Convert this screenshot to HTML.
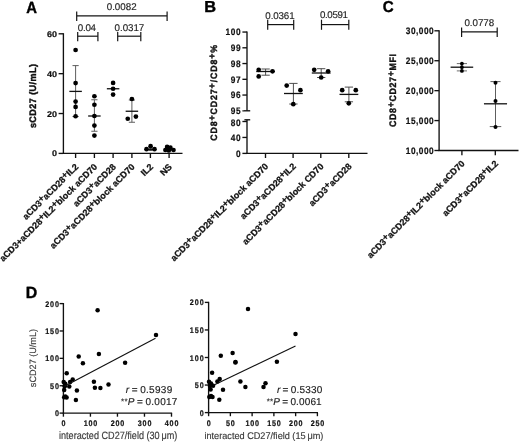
<!DOCTYPE html>
<html><head><meta charset="utf-8"><style>
html,body{margin:0;padding:0;background:#fff;width:520px;height:443px;overflow:hidden}
svg{display:block;text-rendering:geometricPrecision;font-family:"Liberation Sans",Arial,sans-serif}
</style></head><body>
<svg width="520" height="443" viewBox="0 0 520 443">
<rect width="520" height="443" fill="#fff"/>
<text id="LA" transform="translate(26.20,12.74) scale(0.9160,1)" font-size="16.23" font-weight="bold" font-style="normal" text-anchor="start" fill="#000" stroke="#000" stroke-width="0.4">A</text>
<text id="LB" transform="translate(204.19,12.34) scale(1.0300,1)" font-size="15.87" font-weight="bold" font-style="normal" text-anchor="start" fill="#000" stroke="#000" stroke-width="0.4">B</text>
<text id="LC" transform="translate(382.76,12.26) scale(0.9550,1)" font-size="15.89" font-weight="bold" font-style="normal" text-anchor="start" fill="#000" stroke="#000" stroke-width="0.4">C</text>
<text id="LD" transform="translate(25.76,298.45) scale(0.9810,1)" font-size="16.21" font-weight="bold" font-style="normal" text-anchor="start" fill="#000" stroke="#000" stroke-width="0.4">D</text>
<line x1="63.40" y1="33.20" x2="63.40" y2="154.00" stroke="#111" stroke-width="1.35" stroke-linecap="butt"/>
<line x1="62.80" y1="153.40" x2="182.50" y2="153.40" stroke="#111" stroke-width="1.35" stroke-linecap="butt"/>
<line x1="58.60" y1="153.40" x2="63.40" y2="153.40" stroke="#111" stroke-width="1.35" stroke-linecap="butt"/>
<line x1="58.60" y1="113.53" x2="63.40" y2="113.53" stroke="#111" stroke-width="1.35" stroke-linecap="butt"/>
<line x1="58.60" y1="73.67" x2="63.40" y2="73.67" stroke="#111" stroke-width="1.35" stroke-linecap="butt"/>
<line x1="58.60" y1="33.80" x2="63.40" y2="33.80" stroke="#111" stroke-width="1.35" stroke-linecap="butt"/>
<text id="TA_0" transform="translate(56.96,156.43) scale(1.0870,1)" font-size="8.31" font-weight="bold" font-style="normal" text-anchor="end" fill="#111" stroke="#111" stroke-width="0.2">0</text>
<text id="TA_20" transform="translate(56.96,116.56) scale(1.0870,1)" font-size="8.31" font-weight="bold" font-style="normal" text-anchor="end" fill="#111" stroke="#111" stroke-width="0.2">20</text>
<text id="TA_40" transform="translate(56.96,76.69) scale(1.0870,1)" font-size="8.31" font-weight="bold" font-style="normal" text-anchor="end" fill="#111" stroke="#111" stroke-width="0.2">40</text>
<text id="TA_60" transform="translate(56.96,36.83) scale(1.0870,1)" font-size="8.31" font-weight="bold" font-style="normal" text-anchor="end" fill="#111" stroke="#111" stroke-width="0.2">60</text>
<line x1="75.60" y1="153.40" x2="75.60" y2="158.00" stroke="#111" stroke-width="1.35" stroke-linecap="butt"/>
<line x1="94.40" y1="153.40" x2="94.40" y2="158.00" stroke="#111" stroke-width="1.35" stroke-linecap="butt"/>
<line x1="113.10" y1="153.40" x2="113.10" y2="158.00" stroke="#111" stroke-width="1.35" stroke-linecap="butt"/>
<line x1="131.90" y1="153.40" x2="131.90" y2="158.00" stroke="#111" stroke-width="1.35" stroke-linecap="butt"/>
<line x1="150.40" y1="153.40" x2="150.40" y2="158.00" stroke="#111" stroke-width="1.35" stroke-linecap="butt"/>
<line x1="169.10" y1="153.40" x2="169.10" y2="158.00" stroke="#111" stroke-width="1.35" stroke-linecap="butt"/>
<text id="YA" transform="translate(36.09,128.12) rotate(-90) scale(0.9500,1)" font-size="9.50" font-weight="bold" font-style="normal" text-anchor="start" fill="#111" stroke="#111" stroke-width="0.4" letter-spacing="0.469">sCD27 (U/mL)</text>
<line x1="76.70" y1="15.80" x2="167.10" y2="15.80" stroke="#141414" stroke-width="1.2" stroke-linecap="butt"/>
<line x1="76.70" y1="11.50" x2="76.70" y2="20.90" stroke="#141414" stroke-width="1.2" stroke-linecap="butt"/>
<line x1="167.10" y1="11.50" x2="167.10" y2="20.90" stroke="#141414" stroke-width="1.2" stroke-linecap="butt"/>
<text id="P1" transform="translate(106.72,10.12)" font-size="9.75" font-weight="normal" font-style="normal" text-anchor="start" fill="#1e1e1e" stroke="#1e1e1e" stroke-width="0.15" letter-spacing="0.002">0.0082</text>
<line x1="77.70" y1="36.20" x2="97.90" y2="36.20" stroke="#141414" stroke-width="1.2" stroke-linecap="butt"/>
<line x1="77.70" y1="31.90" x2="77.70" y2="41.30" stroke="#141414" stroke-width="1.2" stroke-linecap="butt"/>
<line x1="97.90" y1="31.90" x2="97.90" y2="41.30" stroke="#141414" stroke-width="1.2" stroke-linecap="butt"/>
<text id="P2" transform="translate(77.79,30.55)" font-size="9.75" font-weight="normal" font-style="normal" text-anchor="start" fill="#1e1e1e" stroke="#1e1e1e" stroke-width="0.15" letter-spacing="-0.255">0.04</text>
<line x1="117.70" y1="36.20" x2="140.80" y2="36.20" stroke="#141414" stroke-width="1.2" stroke-linecap="butt"/>
<line x1="117.70" y1="31.90" x2="117.70" y2="41.30" stroke="#141414" stroke-width="1.2" stroke-linecap="butt"/>
<line x1="140.80" y1="31.90" x2="140.80" y2="41.30" stroke="#141414" stroke-width="1.2" stroke-linecap="butt"/>
<text id="P3" transform="translate(114.58,30.89)" font-size="9.75" font-weight="normal" font-style="normal" text-anchor="start" fill="#1e1e1e" stroke="#1e1e1e" stroke-width="0.15" letter-spacing="-0.034">0.0317</text>
<line x1="75.60" y1="65.60" x2="75.60" y2="116.50" stroke="#555" stroke-width="0.95" stroke-linecap="butt"/>
<line x1="72.50" y1="65.60" x2="78.70" y2="65.60" stroke="#555" stroke-width="0.95" stroke-linecap="butt"/>
<line x1="72.50" y1="116.50" x2="78.70" y2="116.50" stroke="#555" stroke-width="0.95" stroke-linecap="butt"/>
<line x1="69.35" y1="91.40" x2="81.85" y2="91.40" stroke="#111" stroke-width="1.3" stroke-linecap="butt"/>
<circle cx="75.60" cy="50.00" r="2.35" fill="#000"/>
<circle cx="75.60" cy="83.10" r="2.35" fill="#000"/>
<circle cx="75.60" cy="101.60" r="2.35" fill="#000"/>
<circle cx="75.60" cy="106.90" r="2.35" fill="#000"/>
<circle cx="75.60" cy="116.25" r="2.35" fill="#000"/>
<line x1="94.40" y1="99.75" x2="94.40" y2="131.25" stroke="#555" stroke-width="0.95" stroke-linecap="butt"/>
<line x1="91.30" y1="99.75" x2="97.50" y2="99.75" stroke="#555" stroke-width="0.95" stroke-linecap="butt"/>
<line x1="91.30" y1="131.25" x2="97.50" y2="131.25" stroke="#555" stroke-width="0.95" stroke-linecap="butt"/>
<line x1="88.15" y1="116.00" x2="100.65" y2="116.00" stroke="#111" stroke-width="1.3" stroke-linecap="butt"/>
<circle cx="94.40" cy="96.25" r="2.35" fill="#000"/>
<circle cx="94.40" cy="104.75" r="2.35" fill="#000"/>
<circle cx="94.40" cy="116.00" r="2.35" fill="#000"/>
<circle cx="94.40" cy="125.60" r="2.35" fill="#000"/>
<circle cx="94.40" cy="135.60" r="2.35" fill="#000"/>
<line x1="106.85" y1="88.75" x2="119.35" y2="88.75" stroke="#111" stroke-width="1.3" stroke-linecap="butt"/>
<circle cx="113.10" cy="82.90" r="2.35" fill="#000"/>
<circle cx="113.10" cy="88.75" r="2.35" fill="#000"/>
<circle cx="113.10" cy="94.60" r="2.35" fill="#000"/>
<line x1="131.90" y1="100.00" x2="131.90" y2="122.25" stroke="#555" stroke-width="0.95" stroke-linecap="butt"/>
<line x1="128.80" y1="100.00" x2="135.00" y2="100.00" stroke="#555" stroke-width="0.95" stroke-linecap="butt"/>
<line x1="128.80" y1="122.25" x2="135.00" y2="122.25" stroke="#555" stroke-width="0.95" stroke-linecap="butt"/>
<line x1="125.65" y1="111.25" x2="138.15" y2="111.25" stroke="#111" stroke-width="1.3" stroke-linecap="butt"/>
<circle cx="131.90" cy="99.00" r="2.35" fill="#000"/>
<circle cx="127.75" cy="118.75" r="2.35" fill="#000"/>
<circle cx="135.90" cy="116.60" r="2.35" fill="#000"/>
<line x1="150.50" y1="148.30" x2="150.50" y2="150.50" stroke="#555" stroke-width="0.95" stroke-linecap="butt"/>
<line x1="148.50" y1="148.30" x2="152.50" y2="148.30" stroke="#555" stroke-width="0.95" stroke-linecap="butt"/>
<line x1="148.50" y1="150.50" x2="152.50" y2="150.50" stroke="#555" stroke-width="0.95" stroke-linecap="butt"/>
<line x1="146.50" y1="149.50" x2="154.50" y2="149.50" stroke="#111" stroke-width="1.3" stroke-linecap="butt"/>
<circle cx="146.50" cy="149.20" r="2.35" fill="#000"/>
<circle cx="150.60" cy="146.20" r="2.35" fill="#000"/>
<circle cx="154.50" cy="149.20" r="2.35" fill="#000"/>
<line x1="169.30" y1="149.00" x2="169.30" y2="150.50" stroke="#555" stroke-width="0.95" stroke-linecap="butt"/>
<line x1="167.30" y1="149.00" x2="171.30" y2="149.00" stroke="#555" stroke-width="0.95" stroke-linecap="butt"/>
<line x1="167.30" y1="150.50" x2="171.30" y2="150.50" stroke="#555" stroke-width="0.95" stroke-linecap="butt"/>
<line x1="165.30" y1="149.80" x2="173.30" y2="149.80" stroke="#111" stroke-width="1.3" stroke-linecap="butt"/>
<circle cx="165.40" cy="150.00" r="2.35" fill="#000"/>
<circle cx="167.10" cy="146.90" r="2.35" fill="#000"/>
<circle cx="170.40" cy="147.70" r="2.35" fill="#000"/>
<circle cx="173.50" cy="150.00" r="2.35" fill="#000"/>
<circle cx="168.80" cy="150.40" r="2.35" fill="#000"/>
<text id="XA0" transform="translate(79.00,167.40) rotate(-45)" font-size="9.00" font-weight="bold" font-style="normal" text-anchor="end" fill="#111" stroke="#111" stroke-width="0.25">aCD3<tspan baseline-shift="25%">+</tspan>aCD28<tspan baseline-shift="25%">+</tspan>IL2</text>
<text id="XA1" transform="translate(97.80,167.40) rotate(-45)" font-size="9.00" font-weight="bold" font-style="normal" text-anchor="end" fill="#111" stroke="#111" stroke-width="0.25">aCD3+aCD28<tspan baseline-shift="25%">+</tspan>IL2<tspan baseline-shift="25%">+</tspan>block aCD70</text>
<text id="XA2" transform="translate(116.50,167.40) rotate(-45)" font-size="9.00" font-weight="bold" font-style="normal" text-anchor="end" fill="#111" stroke="#111" stroke-width="0.25">aCD3<tspan baseline-shift="25%">+</tspan>aCD28</text>
<text id="XA3" transform="translate(135.30,167.40) rotate(-45)" font-size="9.00" font-weight="bold" font-style="normal" text-anchor="end" fill="#111" stroke="#111" stroke-width="0.25">aCD3<tspan baseline-shift="25%">+</tspan>aCD28<tspan baseline-shift="25%">+</tspan>block aCD70</text>
<text id="XA4" transform="translate(153.80,167.40) rotate(-45)" font-size="9.00" font-weight="bold" font-style="normal" text-anchor="end" fill="#111" stroke="#111" stroke-width="0.25">IL2</text>
<text id="XA5" transform="translate(172.50,167.40) rotate(-45)" font-size="9.00" font-weight="bold" font-style="normal" text-anchor="end" fill="#111" stroke="#111" stroke-width="0.25">NS</text>
<line x1="247.00" y1="31.45" x2="247.00" y2="110.80" stroke="#111" stroke-width="1.35" stroke-linecap="butt"/>
<line x1="247.00" y1="119.80" x2="247.00" y2="154.00" stroke="#111" stroke-width="1.35" stroke-linecap="butt"/>
<line x1="246.40" y1="153.40" x2="367.50" y2="153.40" stroke="#111" stroke-width="1.35" stroke-linecap="butt"/>
<line x1="242.40" y1="95.05" x2="247.00" y2="95.05" stroke="#111" stroke-width="1.35" stroke-linecap="butt"/>
<line x1="242.40" y1="79.30" x2="247.00" y2="79.30" stroke="#111" stroke-width="1.35" stroke-linecap="butt"/>
<line x1="242.40" y1="63.55" x2="247.00" y2="63.55" stroke="#111" stroke-width="1.35" stroke-linecap="butt"/>
<line x1="242.40" y1="47.80" x2="247.00" y2="47.80" stroke="#111" stroke-width="1.35" stroke-linecap="butt"/>
<line x1="242.40" y1="32.05" x2="247.00" y2="32.05" stroke="#111" stroke-width="1.35" stroke-linecap="butt"/>
<line x1="242.40" y1="153.40" x2="247.00" y2="153.40" stroke="#111" stroke-width="1.35" stroke-linecap="butt"/>
<line x1="242.40" y1="137.45" x2="247.00" y2="137.45" stroke="#111" stroke-width="1.35" stroke-linecap="butt"/>
<line x1="242.40" y1="121.50" x2="247.00" y2="121.50" stroke="#111" stroke-width="1.35" stroke-linecap="butt"/>
<line x1="243.90" y1="110.80" x2="250.20" y2="110.80" stroke="#111" stroke-width="1.35" stroke-linecap="butt"/>
<line x1="244.40" y1="119.80" x2="250.20" y2="119.80" stroke="#111" stroke-width="1.35" stroke-linecap="butt"/>
<line x1="242.40" y1="110.80" x2="243.90" y2="110.80" stroke="#111" stroke-width="1.35" stroke-linecap="butt"/>
<text id="TB_95" transform="translate(241.16,114.21) scale(0.8800,1)" font-size="9.44" font-weight="bold" font-style="normal" text-anchor="end" fill="#111" stroke="#111" stroke-width="0.2" letter-spacing="0.652">95</text>
<text id="TB_96" transform="translate(241.16,98.46) scale(0.8800,1)" font-size="9.44" font-weight="bold" font-style="normal" text-anchor="end" fill="#111" stroke="#111" stroke-width="0.2" letter-spacing="0.652">96</text>
<text id="TB_97" transform="translate(241.16,82.71) scale(0.8800,1)" font-size="9.44" font-weight="bold" font-style="normal" text-anchor="end" fill="#111" stroke="#111" stroke-width="0.2" letter-spacing="0.652">97</text>
<text id="TB_98" transform="translate(241.16,66.96) scale(0.8800,1)" font-size="9.44" font-weight="bold" font-style="normal" text-anchor="end" fill="#111" stroke="#111" stroke-width="0.2" letter-spacing="0.652">98</text>
<text id="TB_99" transform="translate(241.16,51.21) scale(0.8800,1)" font-size="9.44" font-weight="bold" font-style="normal" text-anchor="end" fill="#111" stroke="#111" stroke-width="0.2" letter-spacing="0.652">99</text>
<text id="TB_100" transform="translate(241.16,35.46) scale(0.8800,1)" font-size="9.44" font-weight="bold" font-style="normal" text-anchor="end" fill="#111" stroke="#111" stroke-width="0.2" letter-spacing="0.652">100</text>
<text id="TB_0" transform="translate(241.16,156.81) scale(0.8800,1)" font-size="9.44" font-weight="bold" font-style="normal" text-anchor="end" fill="#111" stroke="#111" stroke-width="0.2" letter-spacing="0.652">0</text>
<text id="TB_40" transform="translate(241.16,140.86) scale(0.8800,1)" font-size="9.44" font-weight="bold" font-style="normal" text-anchor="end" fill="#111" stroke="#111" stroke-width="0.2" letter-spacing="0.652">40</text>
<text id="TB_80" transform="translate(241.16,125.51) scale(0.8800,1)" font-size="9.44" font-weight="bold" font-style="normal" text-anchor="end" fill="#111" stroke="#111" stroke-width="0.2" letter-spacing="0.652">80</text>
<line x1="265.50" y1="153.40" x2="265.50" y2="158.00" stroke="#111" stroke-width="1.35" stroke-linecap="butt"/>
<line x1="293.10" y1="153.40" x2="293.10" y2="158.00" stroke="#111" stroke-width="1.35" stroke-linecap="butt"/>
<line x1="320.80" y1="153.40" x2="320.80" y2="158.00" stroke="#111" stroke-width="1.35" stroke-linecap="butt"/>
<line x1="348.80" y1="153.40" x2="348.80" y2="158.00" stroke="#111" stroke-width="1.35" stroke-linecap="butt"/>
<text id="YB" transform="translate(217.49,140.73) rotate(-90) scale(0.9500,1)" font-size="9.20" font-weight="bold" font-style="normal" text-anchor="start" fill="#111" stroke="#111" stroke-width="0.4" letter-spacing="0.980">CD8<tspan baseline-shift="25%">+</tspan>CD27<tspan baseline-shift="25%">+</tspan>/CD8<tspan baseline-shift="25%">+</tspan>%</text>
<line x1="267.70" y1="24.60" x2="293.70" y2="24.60" stroke="#141414" stroke-width="1.2" stroke-linecap="butt"/>
<line x1="267.70" y1="19.70" x2="267.70" y2="29.80" stroke="#141414" stroke-width="1.2" stroke-linecap="butt"/>
<line x1="293.70" y1="19.70" x2="293.70" y2="29.80" stroke="#141414" stroke-width="1.2" stroke-linecap="butt"/>
<text id="P4" transform="translate(265.35,18.59)" font-size="9.75" font-weight="normal" font-style="normal" text-anchor="start" fill="#1e1e1e" stroke="#1e1e1e" stroke-width="0.15" letter-spacing="-0.116">0.0361</text>
<line x1="321.50" y1="24.60" x2="348.80" y2="24.60" stroke="#141414" stroke-width="1.2" stroke-linecap="butt"/>
<line x1="321.50" y1="19.70" x2="321.50" y2="29.80" stroke="#141414" stroke-width="1.2" stroke-linecap="butt"/>
<line x1="348.80" y1="19.70" x2="348.80" y2="29.80" stroke="#141414" stroke-width="1.2" stroke-linecap="butt"/>
<text id="P5" transform="translate(319.88,18.25)" font-size="9.75" font-weight="normal" font-style="normal" text-anchor="start" fill="#1e1e1e" stroke="#1e1e1e" stroke-width="0.15" letter-spacing="-0.340">0.0591</text>
<line x1="265.60" y1="69.00" x2="265.60" y2="75.20" stroke="#444" stroke-width="0.95" stroke-linecap="butt"/>
<line x1="261.45" y1="69.00" x2="269.75" y2="69.00" stroke="#444" stroke-width="0.95" stroke-linecap="butt"/>
<line x1="261.45" y1="75.20" x2="269.75" y2="75.20" stroke="#444" stroke-width="0.95" stroke-linecap="butt"/>
<line x1="256.20" y1="71.50" x2="275.00" y2="71.50" stroke="#111" stroke-width="1.3" stroke-linecap="butt"/>
<circle cx="258.70" cy="69.80" r="2.35" fill="#000"/>
<circle cx="272.50" cy="71.30" r="2.35" fill="#000"/>
<circle cx="258.70" cy="76.40" r="2.35" fill="#000"/>
<line x1="293.40" y1="83.40" x2="293.40" y2="104.00" stroke="#444" stroke-width="0.95" stroke-linecap="butt"/>
<line x1="289.25" y1="83.40" x2="297.55" y2="83.40" stroke="#444" stroke-width="0.95" stroke-linecap="butt"/>
<line x1="289.25" y1="104.00" x2="297.55" y2="104.00" stroke="#444" stroke-width="0.95" stroke-linecap="butt"/>
<line x1="284.00" y1="93.50" x2="302.80" y2="93.50" stroke="#111" stroke-width="1.3" stroke-linecap="butt"/>
<circle cx="286.70" cy="85.60" r="2.35" fill="#000"/>
<circle cx="300.40" cy="90.20" r="2.35" fill="#000"/>
<circle cx="293.30" cy="104.20" r="2.35" fill="#000"/>
<line x1="321.20" y1="68.70" x2="321.20" y2="77.50" stroke="#444" stroke-width="0.95" stroke-linecap="butt"/>
<line x1="317.05" y1="68.70" x2="325.35" y2="68.70" stroke="#444" stroke-width="0.95" stroke-linecap="butt"/>
<line x1="317.05" y1="77.50" x2="325.35" y2="77.50" stroke="#444" stroke-width="0.95" stroke-linecap="butt"/>
<line x1="311.80" y1="73.00" x2="330.60" y2="73.00" stroke="#111" stroke-width="1.3" stroke-linecap="butt"/>
<circle cx="314.20" cy="69.80" r="2.35" fill="#000"/>
<circle cx="328.10" cy="71.30" r="2.35" fill="#000"/>
<circle cx="321.20" cy="77.50" r="2.35" fill="#000"/>
<line x1="348.90" y1="87.10" x2="348.90" y2="101.80" stroke="#444" stroke-width="0.95" stroke-linecap="butt"/>
<line x1="344.75" y1="87.10" x2="353.05" y2="87.10" stroke="#444" stroke-width="0.95" stroke-linecap="butt"/>
<line x1="344.75" y1="101.80" x2="353.05" y2="101.80" stroke="#444" stroke-width="0.95" stroke-linecap="butt"/>
<line x1="339.50" y1="94.40" x2="358.30" y2="94.40" stroke="#111" stroke-width="1.3" stroke-linecap="butt"/>
<circle cx="342.20" cy="90.20" r="2.35" fill="#000"/>
<circle cx="355.80" cy="90.20" r="2.35" fill="#000"/>
<circle cx="348.80" cy="103.30" r="2.35" fill="#000"/>
<text id="XB0" transform="translate(268.90,167.00) rotate(-45)" font-size="9.00" font-weight="bold" font-style="normal" text-anchor="end" fill="#111" stroke="#111" stroke-width="0.25">aCD3<tspan baseline-shift="25%">+</tspan>aCD28<tspan baseline-shift="25%">+</tspan>IL2<tspan baseline-shift="25%">+</tspan>block aCD70</text>
<text id="XB1" transform="translate(296.50,167.00) rotate(-45)" font-size="9.00" font-weight="bold" font-style="normal" text-anchor="end" fill="#111" stroke="#111" stroke-width="0.25">aCD3<tspan baseline-shift="25%">+</tspan>aCD28<tspan baseline-shift="25%">+</tspan>IL2</text>
<text id="XB2" transform="translate(324.20,167.00) rotate(-45)" font-size="9.00" font-weight="bold" font-style="normal" text-anchor="end" fill="#111" stroke="#111" stroke-width="0.25">aCD3<tspan baseline-shift="25%">+</tspan>aCD28<tspan baseline-shift="25%">+</tspan>block CD70</text>
<text id="XB3" transform="translate(352.20,167.00) rotate(-45)" font-size="9.00" font-weight="bold" font-style="normal" text-anchor="end" fill="#111" stroke="#111" stroke-width="0.25">aCD3<tspan baseline-shift="25%">+</tspan>aCD28</text>
<line x1="439.10" y1="30.20" x2="439.10" y2="151.10" stroke="#111" stroke-width="1.35" stroke-linecap="butt"/>
<line x1="438.50" y1="150.50" x2="518.50" y2="150.50" stroke="#111" stroke-width="1.35" stroke-linecap="butt"/>
<line x1="434.40" y1="150.50" x2="439.10" y2="150.50" stroke="#111" stroke-width="1.35" stroke-linecap="butt"/>
<line x1="434.40" y1="120.58" x2="439.10" y2="120.58" stroke="#111" stroke-width="1.35" stroke-linecap="butt"/>
<line x1="434.40" y1="90.65" x2="439.10" y2="90.65" stroke="#111" stroke-width="1.35" stroke-linecap="butt"/>
<line x1="434.40" y1="60.72" x2="439.10" y2="60.72" stroke="#111" stroke-width="1.35" stroke-linecap="butt"/>
<line x1="434.40" y1="30.80" x2="439.10" y2="30.80" stroke="#111" stroke-width="1.35" stroke-linecap="butt"/>
<text id="TC_10000" transform="translate(434.08,153.98) scale(0.8800,1)" font-size="9.44" font-weight="bold" font-style="normal" text-anchor="end" fill="#111" stroke="#111" stroke-width="0.2" letter-spacing="0.546">10,000</text>
<text id="TC_15000" transform="translate(434.08,124.06) scale(0.8800,1)" font-size="9.44" font-weight="bold" font-style="normal" text-anchor="end" fill="#111" stroke="#111" stroke-width="0.2" letter-spacing="0.546">15,000</text>
<text id="TC_20000" transform="translate(434.08,94.13) scale(0.8800,1)" font-size="9.44" font-weight="bold" font-style="normal" text-anchor="end" fill="#111" stroke="#111" stroke-width="0.2" letter-spacing="0.546">20,000</text>
<text id="TC_25000" transform="translate(434.08,64.21) scale(0.8800,1)" font-size="9.44" font-weight="bold" font-style="normal" text-anchor="end" fill="#111" stroke="#111" stroke-width="0.2" letter-spacing="0.546">25,000</text>
<text id="TC_30000" transform="translate(434.08,34.28) scale(0.8800,1)" font-size="9.44" font-weight="bold" font-style="normal" text-anchor="end" fill="#111" stroke="#111" stroke-width="0.2" letter-spacing="0.546">30,000</text>
<line x1="461.90" y1="150.50" x2="461.90" y2="155.30" stroke="#111" stroke-width="1.35" stroke-linecap="butt"/>
<line x1="495.30" y1="150.50" x2="495.30" y2="155.30" stroke="#111" stroke-width="1.35" stroke-linecap="butt"/>
<text id="YC" transform="translate(395.77,126.99) rotate(-90) scale(0.9500,1)" font-size="9.40" font-weight="bold" font-style="normal" text-anchor="start" fill="#111" stroke="#111" stroke-width="0.4" letter-spacing="0.635">CD8<tspan baseline-shift="25%">+</tspan>CD27<tspan baseline-shift="25%">+</tspan>MFI</text>
<line x1="461.60" y1="31.90" x2="497.20" y2="31.90" stroke="#141414" stroke-width="1.2" stroke-linecap="butt"/>
<line x1="461.60" y1="27.60" x2="461.60" y2="37.00" stroke="#141414" stroke-width="1.2" stroke-linecap="butt"/>
<line x1="497.20" y1="27.60" x2="497.20" y2="37.00" stroke="#141414" stroke-width="1.2" stroke-linecap="butt"/>
<text id="P6" transform="translate(464.49,26.19)" font-size="9.75" font-weight="normal" font-style="normal" text-anchor="start" fill="#1e1e1e" stroke="#1e1e1e" stroke-width="0.15" letter-spacing="-0.047">0.0778</text>
<line x1="461.90" y1="63.60" x2="461.90" y2="70.90" stroke="#666" stroke-width="0.95" stroke-linecap="butt"/>
<line x1="456.80" y1="63.60" x2="467.00" y2="63.60" stroke="#666" stroke-width="0.95" stroke-linecap="butt"/>
<line x1="456.80" y1="70.90" x2="467.00" y2="70.90" stroke="#666" stroke-width="0.95" stroke-linecap="butt"/>
<line x1="450.60" y1="67.20" x2="473.20" y2="67.20" stroke="#111" stroke-width="1.3" stroke-linecap="butt"/>
<circle cx="461.90" cy="63.60" r="1.9" fill="#000"/>
<circle cx="461.90" cy="67.20" r="1.9" fill="#000"/>
<circle cx="461.90" cy="70.90" r="1.9" fill="#000"/>
<line x1="495.50" y1="81.60" x2="495.50" y2="126.60" stroke="#555" stroke-width="0.95" stroke-linecap="butt"/>
<line x1="490.45" y1="81.60" x2="500.55" y2="81.60" stroke="#555" stroke-width="0.95" stroke-linecap="butt"/>
<line x1="489.75" y1="126.60" x2="501.25" y2="126.60" stroke="#555" stroke-width="0.95" stroke-linecap="butt"/>
<line x1="483.95" y1="103.80" x2="507.05" y2="103.80" stroke="#111" stroke-width="1.3" stroke-linecap="butt"/>
<circle cx="495.50" cy="82.80" r="2.0" fill="#000"/>
<circle cx="495.50" cy="101.10" r="2.0" fill="#000"/>
<circle cx="495.50" cy="126.90" r="2.0" fill="#000"/>
<text id="XC0" transform="translate(465.30,164.10) rotate(-45)" font-size="9.00" font-weight="bold" font-style="normal" text-anchor="end" fill="#111" stroke="#111" stroke-width="0.25">aCD3<tspan baseline-shift="25%">+</tspan>aCD28<tspan baseline-shift="25%">+</tspan>IL2<tspan baseline-shift="25%">+</tspan>block aCD70</text>
<text id="XC1" transform="translate(498.70,164.10) rotate(-45)" font-size="9.00" font-weight="bold" font-style="normal" text-anchor="end" fill="#111" stroke="#111" stroke-width="0.25">aCD3<tspan baseline-shift="25%">+</tspan>aCD28<tspan baseline-shift="25%">+</tspan>IL2</text>
<line x1="63.40" y1="303.00" x2="63.40" y2="413.70" stroke="#111" stroke-width="1.35" stroke-linecap="butt"/>
<line x1="62.80" y1="413.10" x2="172.10" y2="413.10" stroke="#111" stroke-width="1.35" stroke-linecap="butt"/>
<line x1="59.60" y1="413.10" x2="63.40" y2="413.10" stroke="#111" stroke-width="1.35" stroke-linecap="butt"/>
<line x1="59.60" y1="385.73" x2="63.40" y2="385.73" stroke="#111" stroke-width="1.35" stroke-linecap="butt"/>
<line x1="59.60" y1="358.35" x2="63.40" y2="358.35" stroke="#111" stroke-width="1.35" stroke-linecap="butt"/>
<line x1="59.60" y1="330.98" x2="63.40" y2="330.98" stroke="#111" stroke-width="1.35" stroke-linecap="butt"/>
<line x1="59.60" y1="303.60" x2="63.40" y2="303.60" stroke="#111" stroke-width="1.35" stroke-linecap="butt"/>
<text id="TDL_0" transform="translate(59.96,416.12) scale(0.8800,1)" font-size="8.16" font-weight="bold" font-style="normal" text-anchor="end" fill="#111" stroke="#111" stroke-width="0.2" letter-spacing="1.072">0</text>
<text id="TDL_50" transform="translate(59.96,388.74) scale(0.8800,1)" font-size="8.16" font-weight="bold" font-style="normal" text-anchor="end" fill="#111" stroke="#111" stroke-width="0.2" letter-spacing="1.072">50</text>
<text id="TDL_100" transform="translate(59.96,361.37) scale(0.8800,1)" font-size="8.16" font-weight="bold" font-style="normal" text-anchor="end" fill="#111" stroke="#111" stroke-width="0.2" letter-spacing="1.072">100</text>
<text id="TDL_150" transform="translate(59.96,333.99) scale(0.8800,1)" font-size="8.16" font-weight="bold" font-style="normal" text-anchor="end" fill="#111" stroke="#111" stroke-width="0.2" letter-spacing="1.072">150</text>
<text id="TDL_200" transform="translate(59.96,306.62) scale(0.8800,1)" font-size="8.16" font-weight="bold" font-style="normal" text-anchor="end" fill="#111" stroke="#111" stroke-width="0.2" letter-spacing="1.072">200</text>
<line x1="63.40" y1="413.10" x2="63.40" y2="416.70" stroke="#111" stroke-width="1.35" stroke-linecap="butt"/>
<text id="TDX1_0" transform="translate(63.91,425.68) scale(0.8800,1)" font-size="8.16" font-weight="bold" font-style="normal" text-anchor="middle" fill="#111" stroke="#111" stroke-width="0.2" letter-spacing="0.937">0</text>
<line x1="90.42" y1="413.10" x2="90.42" y2="416.70" stroke="#111" stroke-width="1.35" stroke-linecap="butt"/>
<text id="TDX1_100" transform="translate(90.93,425.68) scale(0.8800,1)" font-size="8.16" font-weight="bold" font-style="normal" text-anchor="middle" fill="#111" stroke="#111" stroke-width="0.2" letter-spacing="0.937">100</text>
<line x1="117.45" y1="413.10" x2="117.45" y2="416.70" stroke="#111" stroke-width="1.35" stroke-linecap="butt"/>
<text id="TDX1_200" transform="translate(117.96,425.68) scale(0.8800,1)" font-size="8.16" font-weight="bold" font-style="normal" text-anchor="middle" fill="#111" stroke="#111" stroke-width="0.2" letter-spacing="0.937">200</text>
<line x1="144.47" y1="413.10" x2="144.47" y2="416.70" stroke="#111" stroke-width="1.35" stroke-linecap="butt"/>
<text id="TDX1_300" transform="translate(144.98,425.68) scale(0.8800,1)" font-size="8.16" font-weight="bold" font-style="normal" text-anchor="middle" fill="#111" stroke="#111" stroke-width="0.2" letter-spacing="0.937">300</text>
<line x1="171.50" y1="413.10" x2="171.50" y2="416.70" stroke="#111" stroke-width="1.35" stroke-linecap="butt"/>
<text id="TDX1_400" transform="translate(172.01,425.68) scale(0.8800,1)" font-size="8.16" font-weight="bold" font-style="normal" text-anchor="middle" fill="#111" stroke="#111" stroke-width="0.2" letter-spacing="0.937">400</text>
<text id="YD" transform="translate(35.91,387.14) rotate(-90) scale(0.9810,1)" font-size="9.29" font-weight="normal" font-style="normal" text-anchor="start" fill="#3a3a3a" stroke="#3a3a3a" stroke-width="0.15">sCD27 (U/mL)</text>
<text id="XD1" transform="translate(58.99,439.04) scale(0.8630,1)" font-size="10.55" font-weight="normal" font-style="normal" text-anchor="start" fill="#3a3a3a" stroke="#3a3a3a" stroke-width="0.15">interacted CD27/field (30 μm)</text>
<circle cx="97.60" cy="310.30" r="2.25" fill="#000"/>
<circle cx="156.00" cy="335.00" r="2.25" fill="#000"/>
<circle cx="98.90" cy="354.00" r="2.25" fill="#000"/>
<circle cx="78.70" cy="356.50" r="2.25" fill="#000"/>
<circle cx="82.90" cy="363.20" r="2.25" fill="#000"/>
<circle cx="125.10" cy="362.70" r="2.25" fill="#000"/>
<circle cx="66.70" cy="373.30" r="2.25" fill="#000"/>
<circle cx="72.70" cy="379.60" r="2.25" fill="#000"/>
<circle cx="70.10" cy="381.90" r="2.25" fill="#000"/>
<circle cx="63.70" cy="382.10" r="2.25" fill="#000"/>
<circle cx="65.30" cy="383.80" r="2.25" fill="#000"/>
<circle cx="64.80" cy="386.20" r="2.25" fill="#000"/>
<circle cx="69.30" cy="386.50" r="2.25" fill="#000"/>
<circle cx="64.20" cy="389.90" r="2.25" fill="#000"/>
<circle cx="76.90" cy="390.40" r="2.25" fill="#000"/>
<circle cx="93.90" cy="381.70" r="2.25" fill="#000"/>
<circle cx="94.90" cy="387.80" r="2.25" fill="#000"/>
<circle cx="100.40" cy="388.10" r="2.25" fill="#000"/>
<circle cx="108.50" cy="384.40" r="2.25" fill="#000"/>
<circle cx="64.20" cy="397.30" r="2.25" fill="#000"/>
<circle cx="66.60" cy="397.60" r="2.25" fill="#000"/>
<circle cx="65.30" cy="396.50" r="2.25" fill="#000"/>
<circle cx="75.90" cy="400.10" r="2.25" fill="#000"/>
<line x1="64.50" y1="386.20" x2="155.50" y2="338.20" stroke="#111" stroke-width="1.15" stroke-linecap="butt"/>
<text id="RL" transform="translate(125.78,393.42)" font-size="10.00" font-weight="normal" font-style="normal" text-anchor="start" fill="#222" stroke="#222" stroke-width="0.15" letter-spacing="0.302"><tspan font-style="italic">r</tspan> = 0.5939</text>
<text id="PL" transform="translate(121.06,405.29)" font-size="10.00" font-weight="normal" font-style="normal" text-anchor="start" fill="#222" stroke="#222" stroke-width="0.15" letter-spacing="0.268"><tspan font-size="80%" baseline-shift="14%">**</tspan><tspan font-style="italic">P</tspan> = 0.0017</text>
<line x1="208.60" y1="301.80" x2="208.60" y2="413.20" stroke="#111" stroke-width="1.35" stroke-linecap="butt"/>
<line x1="208.00" y1="412.60" x2="318.00" y2="412.60" stroke="#111" stroke-width="1.35" stroke-linecap="butt"/>
<line x1="204.80" y1="412.60" x2="208.60" y2="412.60" stroke="#111" stroke-width="1.35" stroke-linecap="butt"/>
<line x1="204.80" y1="385.05" x2="208.60" y2="385.05" stroke="#111" stroke-width="1.35" stroke-linecap="butt"/>
<line x1="204.80" y1="357.50" x2="208.60" y2="357.50" stroke="#111" stroke-width="1.35" stroke-linecap="butt"/>
<line x1="204.80" y1="329.95" x2="208.60" y2="329.95" stroke="#111" stroke-width="1.35" stroke-linecap="butt"/>
<line x1="204.80" y1="302.40" x2="208.60" y2="302.40" stroke="#111" stroke-width="1.35" stroke-linecap="butt"/>
<text id="TDR_0" transform="translate(204.66,415.62) scale(0.8800,1)" font-size="8.16" font-weight="bold" font-style="normal" text-anchor="end" fill="#111" stroke="#111" stroke-width="0.2" letter-spacing="1.072">0</text>
<text id="TDR_50" transform="translate(204.66,388.07) scale(0.8800,1)" font-size="8.16" font-weight="bold" font-style="normal" text-anchor="end" fill="#111" stroke="#111" stroke-width="0.2" letter-spacing="1.072">50</text>
<text id="TDR_100" transform="translate(204.66,360.52) scale(0.8800,1)" font-size="8.16" font-weight="bold" font-style="normal" text-anchor="end" fill="#111" stroke="#111" stroke-width="0.2" letter-spacing="1.072">100</text>
<text id="TDR_150" transform="translate(204.66,332.97) scale(0.8800,1)" font-size="8.16" font-weight="bold" font-style="normal" text-anchor="end" fill="#111" stroke="#111" stroke-width="0.2" letter-spacing="1.072">150</text>
<text id="TDR_200" transform="translate(204.66,305.42) scale(0.8800,1)" font-size="8.16" font-weight="bold" font-style="normal" text-anchor="end" fill="#111" stroke="#111" stroke-width="0.2" letter-spacing="1.072">200</text>
<line x1="208.60" y1="412.60" x2="208.60" y2="416.20" stroke="#111" stroke-width="1.35" stroke-linecap="butt"/>
<text id="TDX2_0" transform="translate(209.11,425.68) scale(0.8800,1)" font-size="8.16" font-weight="bold" font-style="normal" text-anchor="middle" fill="#111" stroke="#111" stroke-width="0.2" letter-spacing="0.937">0</text>
<line x1="230.36" y1="412.60" x2="230.36" y2="416.20" stroke="#111" stroke-width="1.35" stroke-linecap="butt"/>
<text id="TDX2_50" transform="translate(230.87,425.68) scale(0.8800,1)" font-size="8.16" font-weight="bold" font-style="normal" text-anchor="middle" fill="#111" stroke="#111" stroke-width="0.2" letter-spacing="0.937">50</text>
<line x1="252.12" y1="412.60" x2="252.12" y2="416.20" stroke="#111" stroke-width="1.35" stroke-linecap="butt"/>
<text id="TDX2_100" transform="translate(252.63,425.68) scale(0.8800,1)" font-size="8.16" font-weight="bold" font-style="normal" text-anchor="middle" fill="#111" stroke="#111" stroke-width="0.2" letter-spacing="0.937">100</text>
<line x1="273.88" y1="412.60" x2="273.88" y2="416.20" stroke="#111" stroke-width="1.35" stroke-linecap="butt"/>
<text id="TDX2_150" transform="translate(274.39,425.68) scale(0.8800,1)" font-size="8.16" font-weight="bold" font-style="normal" text-anchor="middle" fill="#111" stroke="#111" stroke-width="0.2" letter-spacing="0.937">150</text>
<line x1="295.64" y1="412.60" x2="295.64" y2="416.20" stroke="#111" stroke-width="1.35" stroke-linecap="butt"/>
<text id="TDX2_200" transform="translate(296.15,425.68) scale(0.8800,1)" font-size="8.16" font-weight="bold" font-style="normal" text-anchor="middle" fill="#111" stroke="#111" stroke-width="0.2" letter-spacing="0.937">200</text>
<line x1="317.40" y1="412.60" x2="317.40" y2="416.20" stroke="#111" stroke-width="1.35" stroke-linecap="butt"/>
<text id="TDX2_250" transform="translate(317.91,425.68) scale(0.8800,1)" font-size="8.16" font-weight="bold" font-style="normal" text-anchor="middle" fill="#111" stroke="#111" stroke-width="0.2" letter-spacing="0.937">250</text>
<text id="XD2" transform="translate(204.47,438.97) scale(0.9390,1)" font-size="9.74" font-weight="normal" font-style="normal" text-anchor="start" fill="#3a3a3a" stroke="#3a3a3a" stroke-width="0.15">interacted CD27/field (15 μm)</text>
<circle cx="248.00" cy="308.90" r="2.25" fill="#000"/>
<circle cx="295.50" cy="333.90" r="2.25" fill="#000"/>
<circle cx="220.80" cy="355.80" r="2.25" fill="#000"/>
<circle cx="232.60" cy="353.00" r="2.25" fill="#000"/>
<circle cx="235.50" cy="362.10" r="2.25" fill="#000"/>
<circle cx="276.90" cy="361.80" r="2.25" fill="#000"/>
<circle cx="235.40" cy="362.50" r="2.25" fill="#000"/>
<circle cx="212.10" cy="372.70" r="2.25" fill="#000"/>
<circle cx="219.70" cy="378.90" r="2.25" fill="#000"/>
<circle cx="217.40" cy="381.40" r="2.25" fill="#000"/>
<circle cx="209.00" cy="381.70" r="2.25" fill="#000"/>
<circle cx="211.00" cy="383.60" r="2.25" fill="#000"/>
<circle cx="213.10" cy="385.80" r="2.25" fill="#000"/>
<circle cx="210.00" cy="386.10" r="2.25" fill="#000"/>
<circle cx="210.60" cy="389.60" r="2.25" fill="#000"/>
<circle cx="223.00" cy="389.80" r="2.25" fill="#000"/>
<circle cx="240.40" cy="381.40" r="2.25" fill="#000"/>
<circle cx="245.40" cy="387.10" r="2.25" fill="#000"/>
<circle cx="263.50" cy="387.10" r="2.25" fill="#000"/>
<circle cx="265.50" cy="383.20" r="2.25" fill="#000"/>
<circle cx="209.30" cy="397.00" r="2.25" fill="#000"/>
<circle cx="212.50" cy="397.00" r="2.25" fill="#000"/>
<circle cx="211.00" cy="396.00" r="2.25" fill="#000"/>
<circle cx="219.30" cy="399.80" r="2.25" fill="#000"/>
<line x1="213.50" y1="385.20" x2="295.50" y2="346.10" stroke="#111" stroke-width="1.15" stroke-linecap="butt"/>
<text id="RR" transform="translate(276.88,392.98)" font-size="10.00" font-weight="normal" font-style="normal" text-anchor="start" fill="#222" stroke="#222" stroke-width="0.15" letter-spacing="0.191"><tspan font-style="italic">r</tspan> = 0.5330</text>
<text id="PR" transform="translate(266.81,405.27)" font-size="10.00" font-weight="normal" font-style="normal" text-anchor="start" fill="#222" stroke="#222" stroke-width="0.15" letter-spacing="0.137"><tspan font-size="80%" baseline-shift="14%">**</tspan><tspan font-style="italic">P</tspan> = 0.0061</text>
</svg>
</body></html>
